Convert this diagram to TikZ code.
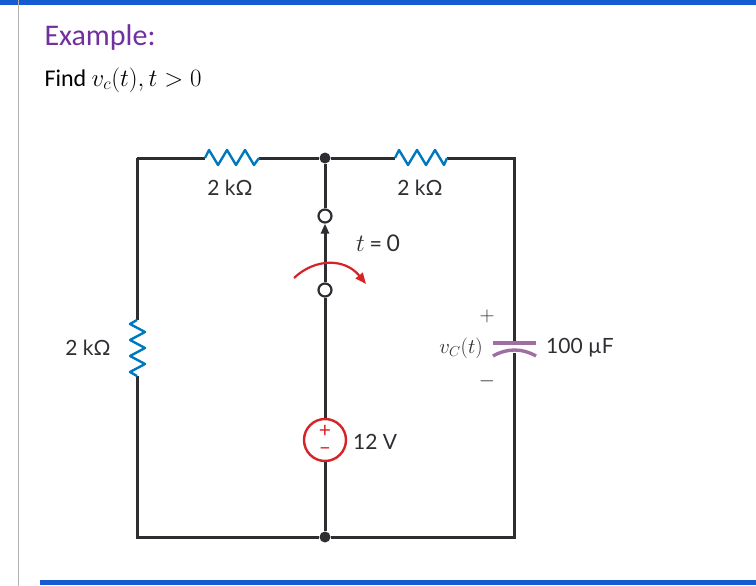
\documentclass[tikz,border=0pt]{standalone}
\usepackage{fontspec}
\setmainfont{Carlito}
\newfontfamily\lab{Lato}
\usetikzlibrary{arrows.meta}
\definecolor{wire}{RGB}{45,45,50}
\definecolor{res}{RGB}{0,120,190}
\definecolor{capc}{RGB}{160,110,160}
\definecolor{srcred}{RGB}{215,35,40}
\definecolor{bar}{RGB}{20,90,210}
\definecolor{ttl}{RGB}{112,48,160}
\tikzset{w/.style={draw=wire,line width=3pt},
 rz/.style={draw=res,line width=2.4pt,line join=round},
 lbl/.style={font=\lab\fontsize{21}{24}\selectfont,text=wire,inner sep=1pt},
 term/.style={circle,draw=wire,line width=2.2pt,fill=white,minimum size=13pt,inner sep=0pt},
 dot/.style={circle,fill=wire,minimum size=11pt,inner sep=0pt}}
\begin{document}
\begin{tikzpicture}[x=1pt,y=-1pt]
\useasboundingbox (0,0) rectangle (756,586);
\fill[bar] (0,0) rectangle (756,5);
\fill[bar] (40,580) rectangle (756,585);
\draw[gray!60,line width=1pt] (18,0) -- (18,586);
\node[anchor=west,text=ttl,font=\fontsize{30}{34}\selectfont] (ex) at (41,38) {Example:};
\node[anchor=west,font=\fontsize{24}{28}\selectfont] (find) at (41,80) {Find $v_c(t), t>0$};
% coordinates
\coordinate (TL) at (137,158); \coordinate (BL) at (137,537);
\node[dot] (TM) at (325,158) {}; \node[dot] (BM) at (325,537) {};
\coordinate (TR) at (514,158); \coordinate (BR) at (514,537);
% wires
\draw[w] (TL) -- (205,158); \draw[w] (259,158) -- (TM) -- (395,158); \draw[w] (447,158) -- (TR) -- (514,344);
\draw[w] (514,353) -- (BR) -- (BM) -- (BL) -- (137,376); \draw[w] (137,320) -- (TL);
% resistors
\draw[rz] (205,158) -- (209,150) -- (218,165) -- (227,150) -- (236,165) -- (245,150) -- (254,165) -- (259,158);
\draw[rz] (395,158) -- (399,150) -- (408,165) -- (417,150) -- (426,165) -- (435,150) -- (444,165) -- (447,158);
\draw[rz] (137,320) -- (130,324) -- (145,332) -- (130,340) -- (145,348) -- (130,356) -- (145,364) -- (130,372) -- (137,376);
\node[lbl] (r1) at (230,188) {2 kΩ};
\node[lbl] (r2) at (420,188) {2 kΩ};
\node[lbl] (r3) at (88,348) {2 kΩ};
% switch
\node[term] (s1) at (325,216) {};
\node[term] (s2) at (325,290) {};
\draw[w] (TM) -- (s1);
\draw[w,-{Triangle[length=10pt,width=8pt]}] (s2) -- (s1);
\draw[srcred,line width=2.2pt,-{Triangle[length=11pt,width=9pt]}] (294,278) .. controls (315,258) and (345,258) .. (366,284);
\node[font=\fontsize{23}{26}\selectfont,text=wire] (t0) at (378,243) {$t$ = \lab 0};
% source
\node[circle,draw=srcred,line width=2.4pt,fill=white,minimum size=42pt,inner sep=0pt,
  text=srcred,font=\lab\fontsize{21}{17}\selectfont,align=center] (src) at (325,440) {+\\–};
\draw[w] (s2) -- (src); \draw[w] (src) -- (BM);
\node[lbl,anchor=west] (v) at (352,442) {12 V};
% capacitor
\draw[capc,line width=3.4pt] (493,343) -- (536,343);
\draw[capc,line width=3.4pt] (493,356) .. controls (507,348) and (522,348) .. (536,356);
\node[font=\fontsize{20}{20}\selectfont,text=wire] (cp) at (487,316) {$+$};
\node[font=\fontsize{20}{20}\selectfont,text=wire] (cm) at (487,381) {$-$};
\node[font=\fontsize{22}{26}\selectfont,text=wire] (vc) at (461,348) {$v_C(t)$};
\node[lbl,anchor=west] (cv) at (545,348) {100 µF};
\end{tikzpicture}
\end{document}
